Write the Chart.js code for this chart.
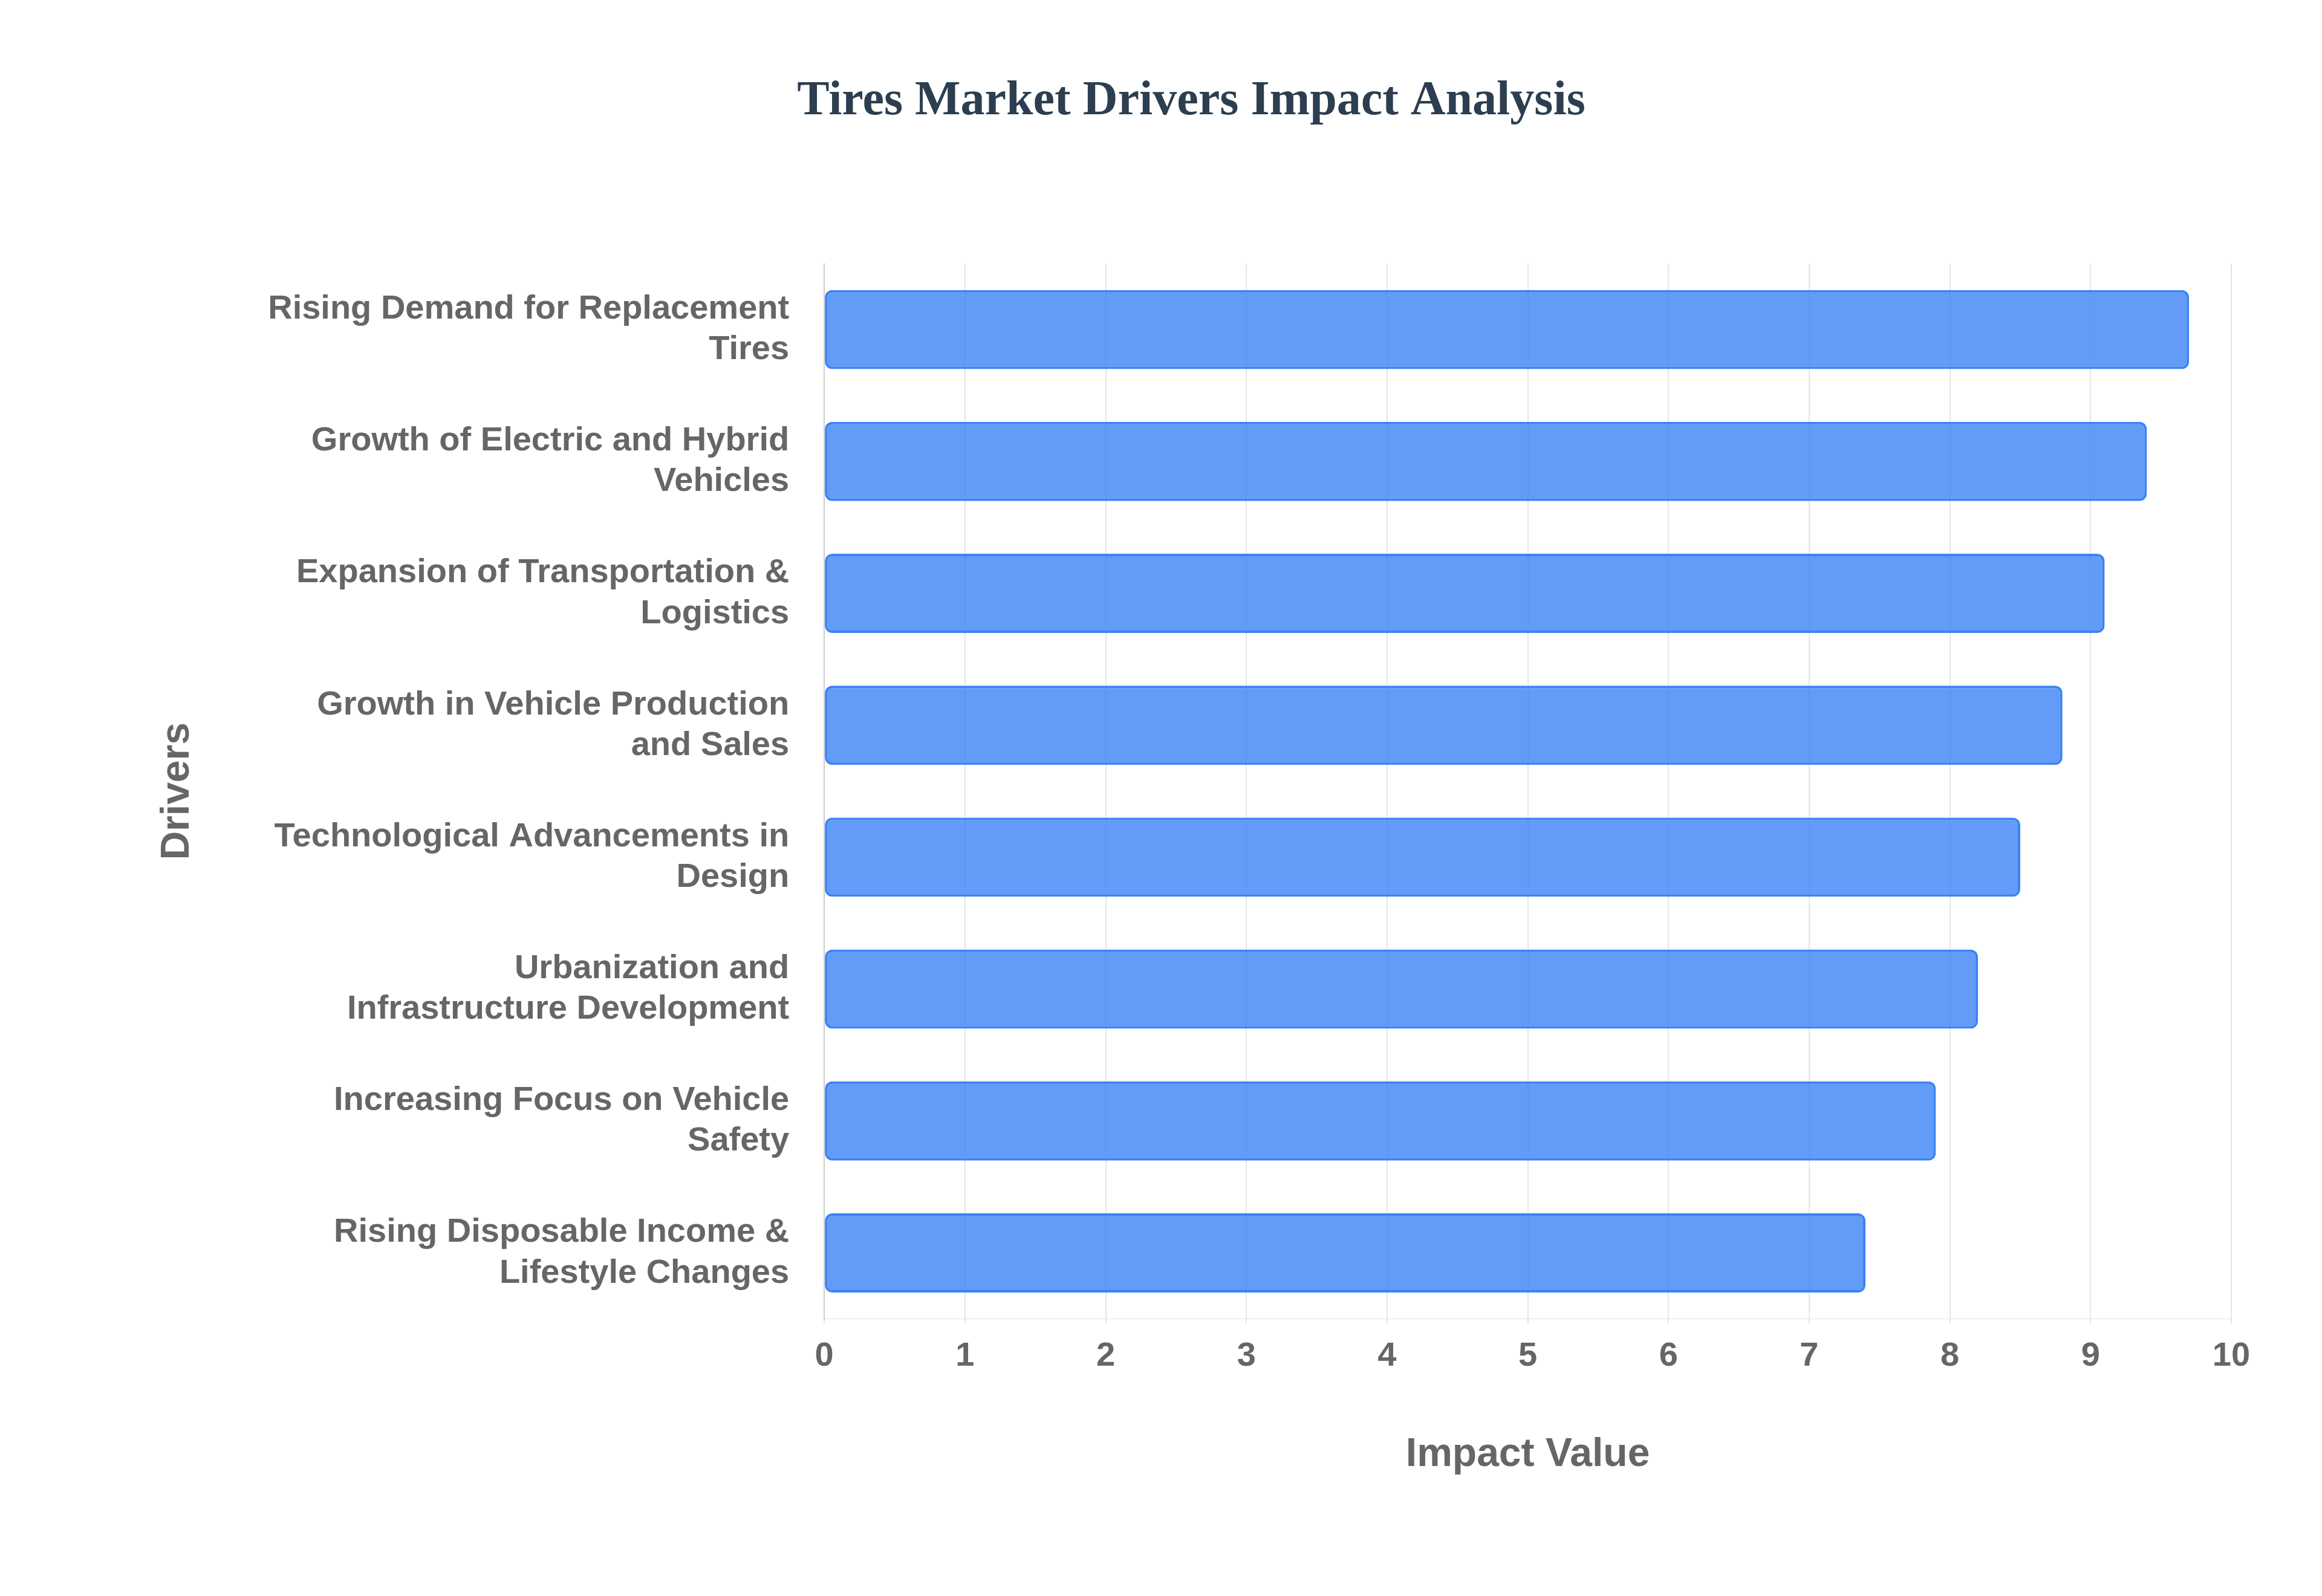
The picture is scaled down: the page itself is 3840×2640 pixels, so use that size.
<!DOCTYPE html>
<html>
<head>
<meta charset="utf-8">
<script src="https://cdn.jsdelivr.net/npm/chart.js@4/dist/chart.umd.min.js"></script>
<style>
  html, body { margin: 0; padding: 0; background: #ffffff; }
  #wrap { width: 3840px; height: 2640px; }
</style>
</head>
<body>
<div id="wrap"><canvas id="chart" width="3840" height="2640"></canvas></div>
<script>
const drivers = [
    ['Rising Demand for Replacement', 'Tires'],
    ['Growth of Electric and Hybrid', 'Vehicles'],
    ['Expansion of Transportation &', 'Logistics'],
    ['Growth in Vehicle Production', 'and Sales'],
    ['Technological Advancements in', 'Design'],
    ['Urbanization and', 'Infrastructure Development'],
    ['Increasing Focus on Vehicle', 'Safety'],
    ['Rising Disposable Income &', 'Lifestyle Changes']
];
const impactValues = [9.7, 9.4, 9.1, 8.8, 8.5, 8.2, 7.9, 7.4];

const axisFont = { family: 'Liberation Sans, Arial, sans-serif', weight: 'bold' };

new Chart(document.getElementById('chart'), {
    type: 'bar',
    data: {
        labels: drivers,
        datasets: [{
            label: 'Impact Value',
            data: impactValues,
            backgroundColor: 'rgba(59, 130, 246, 0.8)',
            borderColor: 'rgba(59, 130, 246, 1)',
            borderWidth: 4,
            borderRadius: 12,
            borderSkipped: false,
            barPercentage: 0.6,
            categoryPercentage: 1.0
        }]
    },
    options: {
        indexAxis: 'y',
        responsive: false,
        devicePixelRatio: 1,
        animation: false,
        layout: { padding: { left: 250, right: 150, top: 120, bottom: 190 } },
        plugins: {
            legend: { display: false },
            title: {
                display: true,
                text: 'Tires Market Drivers Impact Analysis',
                color: '#2c3e50',
                font: { family: 'Liberation Serif, Times New Roman, serif', size: 80, weight: 'bold' },
                padding: { top: 0, bottom: 220 }
            }
        },
        scales: {
            x: {
                min: 0,
                max: 10,
                ticks: { stepSize: 1, color: '#666', font: { ...axisFont, size: 56 }, padding: 20 },
                grid: { color: 'rgba(0,0,0,0.1)', lineWidth: 2 },
                title: {
                    display: true,
                    text: 'Impact Value',
                    color: '#666',
                    font: { ...axisFont, size: 66 },
                    padding: { top: 70 }
                }
            },
            y: {
                ticks: { color: '#666', font: { ...axisFont, size: 56 }, padding: 50 },
                grid: { color: 'rgba(0,0,0,0.1)', lineWidth: 2, display: false },
                border: { display: true, color: 'rgba(0,0,0,0.1)', width: 2 },
                title: {
                    display: true,
                    text: 'Drivers',
                    color: '#666',
                    font: { ...axisFont, size: 66 },
                    padding: { bottom: 60 }
                }
            }
        }
    }
});
</script>
</body>
</html>
